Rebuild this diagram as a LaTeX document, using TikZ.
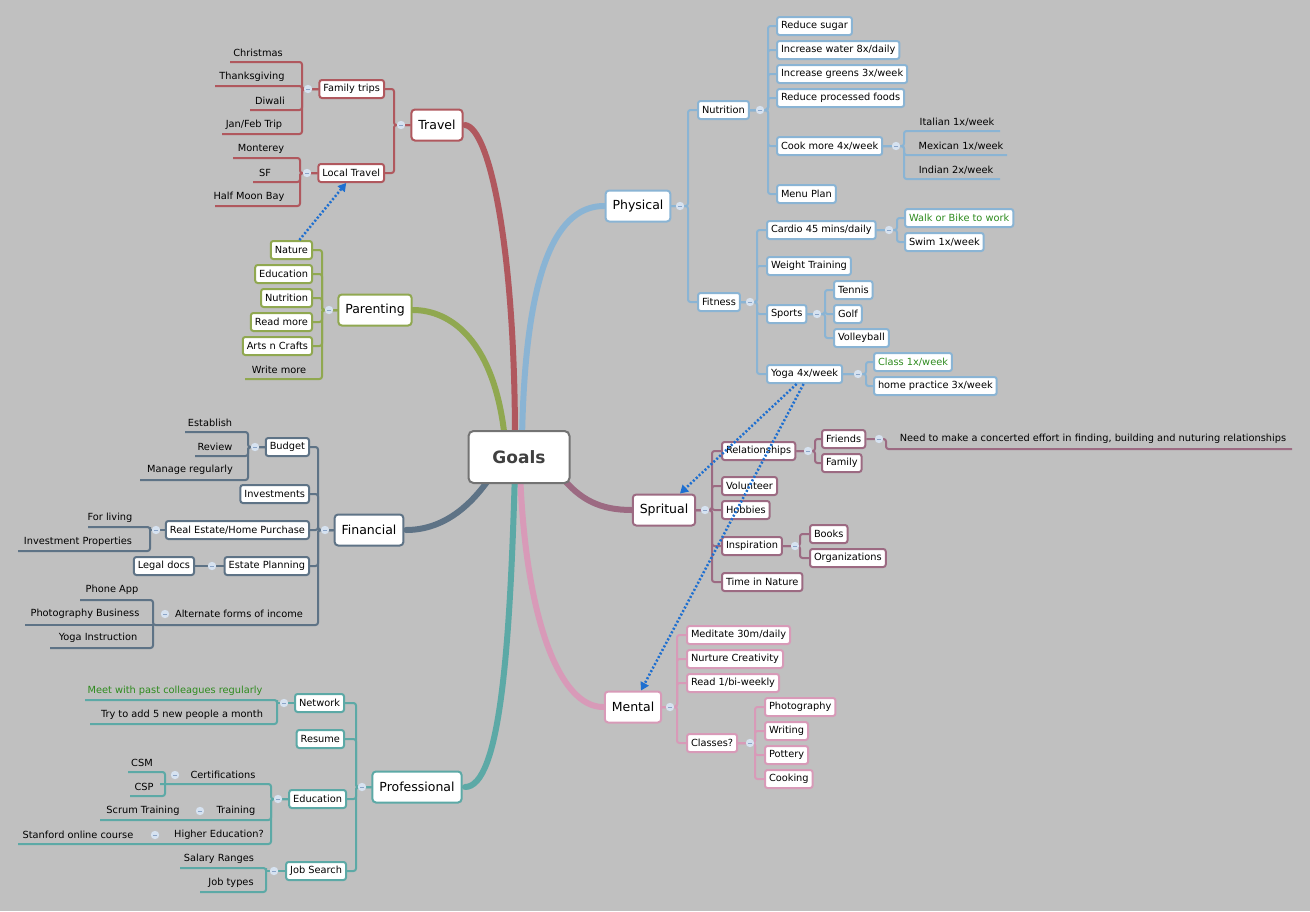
\documentclass[tikz,border=0pt]{standalone}
\usepackage{fontspec}
\setmainfont{DejaVu Sans}
\usetikzlibrary{arrows.meta}
\definecolor{bg}{HTML}{C0C0C0}
\definecolor{travc}{HTML}{B0585E}
\definecolor{phyc}{HTML}{8AB4D4}
\definecolor{parc}{HTML}{90A850}
\definecolor{finc}{HTML}{5E7386}
\definecolor{sprc}{HTML}{9C6A82}
\definecolor{menc}{HTML}{D89AB8}
\definecolor{proc}{HTML}{5CA9A6}
\definecolor{cmf}{HTML}{D6E2F0}
\definecolor{cmm}{HTML}{8AA4C8}
\definecolor{arrc}{HTML}{1E6FD0}
\definecolor{grn}{HTML}{2E8B1E}
\newcommand\fs{\fontsize{9.8}{11}\selectfont}
\newcommand\fm{\fontsize{12.5}{14}\selectfont}
\newcommand\cmk[2]{\fill[cmf] (#1,#2) circle (4.2); \draw[cmm,line width=.9] (#1-2,#2)--(#1+2,#2);}
\newcommand\rc[4]{\draw[ln] (#1.east) -- (#2,#3) |- (#4.west);}
\newcommand\ru[5]{\draw[ln] (#1.east) -- (#2,#3) |- (#4,#5);}
\newcommand\lc[4]{\draw[ln] (#1.west) -- (#2,#3) |- (#4.east);}
\newcommand\lu[5]{\draw[ln] (#1.west) -- (#2,#3) |- (#4,#5);}
\tikzset{
 bx/.style={draw, fill=white, rounded corners=2.5pt, line width=2pt, text=black, font=\fs, inner xsep=4pt, inner ysep=1.5pt, minimum height=18},
 mn/.style={bx, font=\fm, inner xsep=7pt, minimum height=31, rounded corners=3.5pt},
 lf/.style={text=black, font=\fs, inner sep=1pt},
 ln/.style={line width=2pt, rounded corners=2.5pt},
 trunk/.style={line width=6pt, line cap=round},
 dotarr/.style={arrc, line width=2.5pt, dash pattern=on 2pt off 2pt, -{Triangle[length=8pt,width=9pt]}},
}
\begin{document}
\begin{tikzpicture}[x=1pt,y=-1pt]
\fill[bg] (0,0) rectangle (1310,911);
\useasboundingbox (0,0) rectangle (1310,911);
% trunks
\draw[trunk,travc] (515,440) .. controls (515,250) and (490,128) .. (465,125);
\draw[trunk,phyc] (522,440) .. controls (525,260) and (560,206) .. (604,206);
\draw[trunk,parc] (505,440) .. controls (495,340) and (450,310) .. (413,310);
\draw[trunk,finc] (495,470) .. controls (470,510) and (440,530) .. (406,530);
\draw[trunk,sprc] (560,475) .. controls (580,500) and (600,510) .. (632,510);
\draw[trunk,menc] (520,470) .. controls (525,620) and (560,707) .. (603,707);
\draw[trunk,proc] (515,470) .. controls (510,650) and (500,787) .. (465,787);
\node[draw=gray!90!black, fill=white, line width=2pt, rounded corners=5pt, minimum width=101, minimum height=52, font=\fontsize{17}{20}\selectfont\bfseries, text=black!75] (goals) at (519,457) {Goals};

% TRAVEL
\begin{scope}[color=travc]
\node[mn] (trav) at (437,125) {Travel};
\node[bx,anchor=east] (ft) at (385,89) {Family trips};
\node[bx,anchor=east] (lt) at (385,173) {Local Travel};
\lc{trav}{394}{125}{ft} \lc{trav}{394}{125}{lt}
\node[lf] at (258,53) {Christmas};
\node[lf] at (252,77) {Thanksgiving};
\node[lf] at (270,101) {Diwali};
\node[lf] at (254,125) {Jan/Feb Trip};
\lu{ft}{302}{89}{230}{62} \lu{ft}{302}{89}{215}{86} \lu{ft}{302}{89}{250}{110} \lu{ft}{302}{89}{222}{134}
\node[lf] at (261,149) {Monterey};
\node[lf] at (265,173) {SF};
\node[lf] at (249,197) {Half Moon Bay};
\lu{lt}{300}{173}{233}{158} \lu{lt}{300}{173}{253}{182} \lu{lt}{300}{173}{215}{206}
\cmk{401}{125} \cmk{308}{89} \cmk{307}{173}
\end{scope}

% PARENTING
\begin{scope}[color=parc]
\node[mn] (par) at (375,310) {Parenting};
\node[bx,anchor=east] (nat) at (313,250) {Nature};
\node[bx,anchor=east] (ped) at (313,274) {Education};
\node[bx,anchor=east] (pnu) at (313,298) {Nutrition};
\node[bx,anchor=east] (prm) at (313,322) {Read more};
\node[bx,anchor=east] (pac) at (313,346) {Arts n Crafts};
\node[lf] at (279,370) {Write more};
\foreach \c in {nat,ped,pnu,prm,pac} {\lc{par}{322}{310}{\c}}
\lu{par}{322}{310}{245}{379}
\cmk{329}{310}
\end{scope}

% FINANCIAL
\begin{scope}[color=finc]
\node[mn] (fin) at (369,530) {Financial};
\node[bx,anchor=east] (bud) at (310,447) {Budget};
\node[bx,anchor=east] (inv) at (310,494) {Investments};
\node[bx,anchor=east] (re) at (310,530) {Real Estate/Home Purchase};
\node[bx,anchor=east] (ep) at (310,566) {Estate Planning};
\node[lf] at (239,614) {Alternate forms of income};
\foreach \c in {bud,inv,re,ep} {\lc{fin}{318}{530}{\c}}
\lu{fin}{318}{530}{160}{625}
\node[lf] at (210,423) {Establish};
\node[lf] at (215,447) {Review};
\node[lf] at (190,470) {Manage regularly};
\lu{bud}{248}{447}{185}{432} \lu{bud}{248}{447}{195}{456} \lu{bud}{248}{447}{140}{480}
\node[lf] at (110,518) {For living};
\node[lf] at (78,542) {Investment Properties};
\draw[ln] (re.west) -- (150,530);
\draw[ln] (150,530) |- (88,527);
\draw[ln] (150,527) |- (18,551);
\node[bx,anchor=east] (ld) at (195,566) {Legal docs};
\draw[ln] (ep.west) -- (ld.east);
\node[lf] at (112,590) {Phone App};
\node[lf] at (85,614) {Photography Business};
\node[lf] at (98,638) {Yoga Instruction};
\draw[ln] (160,625) -- (153,625) |- (80,600);
\draw[ln] (153,625) -- (25,625);
\draw[ln] (153,625) |- (50,648);
\cmk{325}{530} \cmk{255}{447} \cmk{156}{530} \cmk{212}{566} \cmk{165}{614}
\end{scope}

% PROFESSIONAL
\begin{scope}[color=proc]
\node[mn] (pro) at (417,787) {Professional};
\node[bx,anchor=east] (net) at (345,703) {Network};
\node[bx,anchor=east] (res) at (345,739) {Resume};
\node[bx,anchor=east] (edu) at (347,799) {Education};
\node[bx,anchor=east] (js) at (347,871) {Job Search};
\foreach \c in {net,res,edu,js} {\lc{pro}{356}{787}{\c}}
\node[lf,text=grn] at (175,691) {Meet with past colleagues regularly};
\node[lf] at (182,715) {Try to add 5 new people a month};
\draw[ln] (net.west) -- (277,703);
\draw[ln] (277,703) -- (277,700) -- (85,700);
\draw[ln] (277,700) |- (90,724);
\node[lf] at (223,775) {Certifications};
\node[lf] at (236,811) {Training};
\node[lf] at (219,835) {Higher Education?};
\lu{edu}{271}{799}{160}{784} \lu{edu}{271}{799}{100}{820} \lu{edu}{271}{799}{18}{844}
\node[lf] at (142,763) {CSM};
\node[lf] at (144,787) {CSP};
\draw[ln] (165,784) |- (128,772);
\draw[ln] (165,784) |- (130,796);
\node[lf] at (143,811) {Scrum Training};
\node[lf] at (78,835) {Stanford online course};
\node[lf] at (219,859) {Salary Ranges};
\node[lf] at (231,883) {Job types};
\draw[ln] (js.west) -- (266,871);
\draw[ln] (266,871) -- (266,868) -- (180,868);
\draw[ln] (266,868) |- (200,892);
\cmk{362}{787} \cmk{284}{703} \cmk{278}{799} \cmk{175}{775} \cmk{200}{811} \cmk{155}{835} \cmk{274}{871}
\end{scope}

% PHYSICAL
\begin{scope}[color=phyc]
\node[mn] (phy) at (638,206) {Physical};
\node[bx,anchor=west] (nut) at (697,110) {Nutrition};
\node[bx,anchor=west] (fit) at (697,302) {Fitness};
\rc{phy}{688}{206}{nut} \rc{phy}{688}{206}{fit}
\node[bx,anchor=west] (n1) at (776,26) {Reduce sugar};
\node[bx,anchor=west] (n2) at (776,50) {Increase water 8x/daily};
\node[bx,anchor=west] (n3) at (776,74) {Increase greens 3x/week};
\node[bx,anchor=west] (n4) at (776,98) {Reduce processed foods};
\node[bx,anchor=west] (ck) at (776,146) {Cook more 4x/week};
\node[bx,anchor=west] (n6) at (776,194) {Menu Plan};
\foreach \c in {n1,n2,n3,n4,ck,n6} {\rc{nut}{768}{110}{\c}}
\node[lf] at (957,122) {Italian 1x/week};
\node[lf] at (961,146) {Mexican 1x/week};
\node[lf] at (956,170) {Indian 2x/week};
\ru{ck}{904}{146}{1000}{131} \ru{ck}{904}{146}{1007}{155} \ru{ck}{904}{146}{1000}{179}
\node[bx,anchor=west] (car) at (766,230) {Cardio 45 mins/daily};
\node[bx,anchor=west] (wt) at (766,266) {Weight Training};
\node[bx,anchor=west] (sp) at (766,314) {Sports};
\node[bx,anchor=west] (yg) at (766,374) {Yoga 4x/week};
\foreach \c in {car,wt,sp,yg} {\rc{fit}{757}{302}{\c}}
\node[bx,anchor=west,text=grn] (c1) at (904,218) {Walk or Bike to work};
\node[bx,anchor=west] (c2) at (904,242) {Swim 1x/week};
\rc{car}{897}{230}{c1} \rc{car}{897}{230}{c2}
\node[bx,anchor=west] (s1) at (833,290) {Tennis};
\node[bx,anchor=west] (s2) at (833,314) {Golf};
\node[bx,anchor=west] (s3) at (833,338) {Volleyball};
\foreach \c in {s1,s2,s3} {\rc{sp}{825}{314}{\c}}
\node[bx,anchor=west,text=grn] (y1) at (873,362) {Class 1x/week};
\node[bx,anchor=west] (y2) at (873,386) {home practice 3x/week};
\rc{yg}{866}{374}{y1} \rc{yg}{866}{374}{y2}
\cmk{680}{206} \cmk{760}{110} \cmk{896}{146} \cmk{750}{302} \cmk{889}{230} \cmk{817}{314} \cmk{858}{374}
\end{scope}

% SPIRITUAL
\begin{scope}[color=sprc]
\node[mn] (spr) at (664,510) {Spritual};
\node[bx,anchor=west] (rel) at (721,451) {Relationships};
\node[bx,anchor=west] (vol) at (721,486) {Volunteer};
\node[bx,anchor=west] (hob) at (721,510) {Hobbies};
\node[bx,anchor=west] (ins) at (721,546) {Inspiration};
\node[bx,anchor=west] (tin) at (721,582) {Time in Nature};
\foreach \c in {rel,vol,hob,ins,tin} {\rc{spr}{712}{510}{\c}}
\node[bx,anchor=west] (fr) at (821,439) {Friends};
\node[bx,anchor=west] (fa) at (821,463) {Family};
\rc{rel}{815}{451}{fr} \rc{rel}{815}{451}{fa}
\node[lf] at (1093,439) {Need to make a concerted effort in finding, building and nuturing relationships};
\ru{fr}{886}{439}{1292}{449}
\node[bx,anchor=west] (bk) at (809,534) {Books};
\node[bx,anchor=west] (org) at (809,558) {Organizations};
\rc{ins}{800}{546}{bk} \rc{ins}{800}{546}{org}
\cmk{705}{510} \cmk{808}{451} \cmk{879}{439} \cmk{795}{546}
\end{scope}

% MENTAL
\begin{scope}[color=menc]
\node[mn] (men) at (633,707) {Mental};
\node[bx,anchor=west] (m1) at (686,635) {Meditate 30m/daily};
\node[bx,anchor=west] (m2) at (686,659) {Nurture Creativity};
\node[bx,anchor=west] (m3) at (686,683) {Read 1/bi-weekly};
\node[bx,anchor=west] (cl) at (686,743) {Classes?};
\foreach \c in {m1,m2,m3,cl} {\rc{men}{677}{707}{\c}}
\node[bx,anchor=west] (k1) at (764,707) {Photography};
\node[bx,anchor=west] (k2) at (764,731) {Writing};
\node[bx,anchor=west] (k3) at (764,755) {Pottery};
\node[bx,anchor=west] (k4) at (764,779) {Cooking};
\foreach \c in {k1,k2,k3,k4} {\rc{cl}{755}{743}{\c}}
\cmk{670}{707} \cmk{750}{743}
\end{scope}

% dotted arrows
\draw[dotarr] ([xshift=8pt]nat.north) -- ([xshift=-5pt]lt.south);
\draw[dotarr] ([xshift=-8pt]yg.south) -- ([xshift=16pt]spr.north);
\draw[dotarr] ([xshift=-1pt]yg.south) -- ([xshift=8pt]men.north);
\end{tikzpicture}
\end{document}
